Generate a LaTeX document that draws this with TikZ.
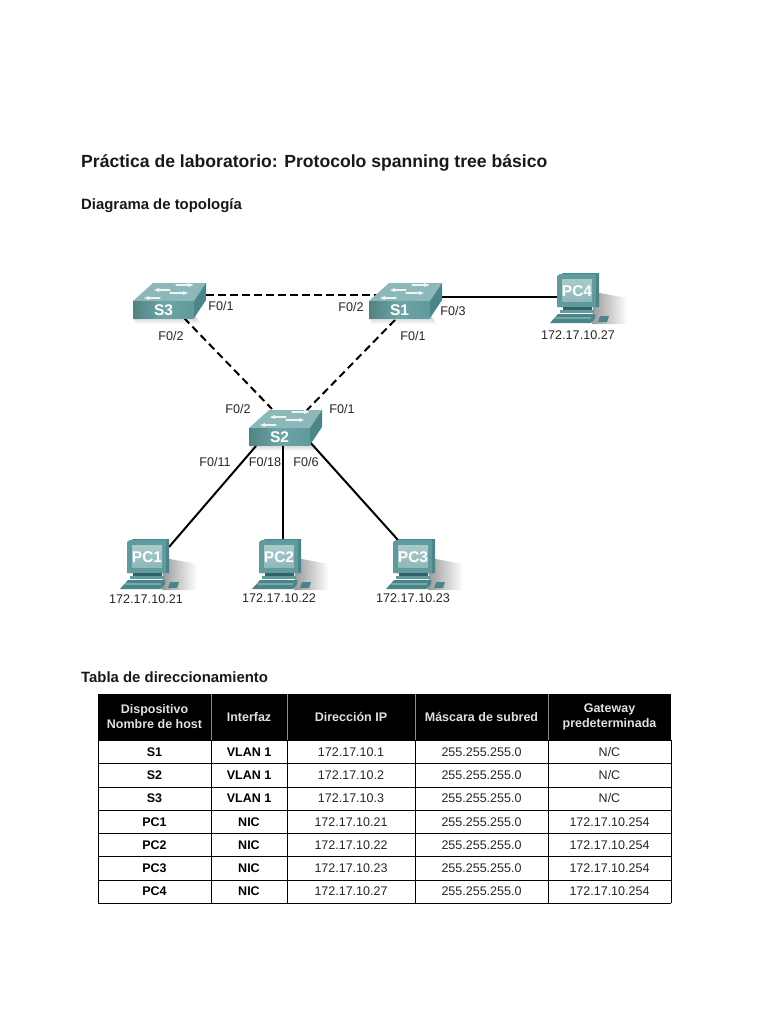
\documentclass[tikz,border=0pt]{standalone}
\usepackage{fontspec}
\setmainfont{Liberation Sans}
\usetikzlibrary{fadings}
\definecolor{tealF}{HTML}{5F9A9C}
\definecolor{tealT}{HTML}{8DB8BA}
\definecolor{tealS}{HTML}{4A8589}
\definecolor{tealD}{HTML}{2F6468}
\definecolor{txt}{HTML}{262626}
\tikzset{
 x=1pt,y=-1pt,
 heading/.style={anchor=west,inner sep=0,font=\bfseries\fontsize{14.9}{14.9}\selectfont,text=black!90},
 port/.style={inner sep=0,font=\fontsize{12.6}{12.6}\selectfont,text=txt},
 iplabel/.style={inner sep=0,font=\fontsize{12.6}{12.6}\selectfont,text=txt},
 swlabel/.style={inner sep=0,font=\bfseries\fontsize{15.5}{15.5}\selectfont,text=white},
 pclabel/.style={inner sep=0,font=\bfseries\fontsize{15.5}{15.5}\selectfont,text=white},
 dashlink/.style={draw=black,line width=2pt,dash pattern=on 7.5pt off 4.5pt},
 solidlink/.style={draw=black,line width=2pt},
 hdr/.style={inner sep=0,align=center,text=white!88!black,font=\bfseries\fontsize{12.5}{15}\selectfont},
 cellb/.style={inner sep=0,font=\bfseries\fontsize{12.5}{12.5}\selectfont,text=black},
 cell/.style={inner sep=0,font=\fontsize{12.5}{12.5}\selectfont,text=txt},
 grid/.style={draw=black,line width=0.7pt},
 hsep/.style={draw=white!55!black,line width=0.5pt},
 swarrow/.style={draw=white!85!tealT,line width=1.2pt,line cap=round},
}
% #1 name, #2 front-left x, #3 front-top y, #4 label
\newcommand{\swbox}[4]{%
 \begin{scope}[shift={(#2,#3)}]
  \fill[black,opacity=.22,path fading=south] (0,15) -- (62,15) -- (68,23) -- (3,23) -- cycle;
  \fill[tealT] (0,0) -- (20,-18) -- (73,-18) -- (61,0) -- cycle;
  \fill[tealS] (61,0) -- (73,-18) -- (73,-1) -- (61,17) -- cycle;
  \shade[left color=tealF!85!black,right color=tealF,middle color=tealF!90!white] (0,0) rectangle (61,17);
  \draw[swarrow] (43,-16)--(59,-16) (25,-11)--(37,-11) (37,-8)--(52,-8) (15,-3)--(27,-3);
  \fill[white!85!tealT] (60,-16)--(55,-18)--(55,-14)--cycle (21,-11)--(26,-13)--(26,-9)--cycle
   (55,-8)--(50,-10)--(50,-6)--cycle (11,-3)--(16,-5)--(16,-1)--cycle;
  \node[swlabel] (#1) at (30.5,8.8) {#4};
 \end{scope}}
% #1 name, #2 centre x, #3 top y, #4 label
\newcommand{\pcbox}[4]{%
 \begin{scope}[shift={(#2,#3)}]
  \fill[black,opacity=.4,path fading=east] (16,18) -- (49,24) -- (49,50) -- (14,50) -- cycle;
  \fill[tealS] (-18,1) -- (-15,-1) -- (21,-1) -- (21,33) -- (-18,33) -- cycle;
  \fill[tealF] (-21,2) -- (-18,0) -- (18,0) -- (18,33) -- (-21,33) -- cycle;
  \shade[top color=tealT!75!white,bottom color=tealF!70!white] (-16,5) rectangle (14,27);
  \fill[tealD] (-15,33) rectangle (14,37);
  \fill[tealF] (-18,36) rectangle (16,39);
  \fill[tealS] (-28,49) -- (-20,40) -- (17,40) -- (17,44) -- (13,49) -- cycle;
  \fill[tealF!85!white] (-23,43) rectangle (13,45);
  \fill[tealS] (22,42) -- (31,42) -- (29,48) -- (20,48) -- cycle;
  \node[pclabel] (#1) at (-1,17.5) {#4};
 \end{scope}}
\begin{document}
\begin{tikzpicture}
\useasboundingbox (0,0) rectangle (768,1024);
\fill[white] (0,0) rectangle (768,1024);

\node[heading,font=\bfseries\fontsize{17.6}{17.6}\selectfont] (title) at (81,163) {Práctica de laboratorio: Protocolo spanning tree básico};
\node[heading] (sub1) at (81,206) {Diagrama de topología};
\node[heading] (sub2) at (81,677) {Tabla de direccionamiento};

% anchors of the connectors
\coordinate (s3e) at (206,295);
\coordinate (s1w) at (378,295);
\coordinate (s3s) at (184,318);
\coordinate (s2nw) at (272,409);
\coordinate (s1s) at (395,320);
\coordinate (s2ne) at (307,410);
\coordinate (s1e) at (442,297);
\coordinate (pc4w) at (560,297);
\coordinate (s2a) at (256,446);
\coordinate (pc1e) at (169,547);
\coordinate (s2b) at (283,446);
\coordinate (pc2n) at (283,540);
\coordinate (s2c) at (309,441);
\coordinate (pc3n) at (398,540);

\draw[dashlink] (s3e) -- (s1w);
\draw[dashlink] (s3s) -- (s2nw);
\draw[dashlink] (s1s) -- (s2ne);
\draw[solidlink] (s1e) -- (pc4w);
\draw[solidlink] (s2a) -- (pc1e);
\draw[solidlink] (s2b) -- (pc2n);
\draw[solidlink] (s2c) -- (pc3n);

\swbox{S3}{133}{301}{S3}
\swbox{S1}{369}{301}{S1}
\swbox{S2}{249}{428}{S2}

\pcbox{PC1}{148}{540}{PC1}
\pcbox{PC2}{280}{540}{PC2}
\pcbox{PC3}{414}{540}{PC3}
\pcbox{PC4}{578}{274}{PC4}

\node[iplabel] (ip1) at (146,599) {172.17.10.21};
\node[iplabel] (ip2) at (279,598.5) {172.17.10.22};
\node[iplabel] (ip3) at (413,598.5) {172.17.10.23};
\node[iplabel] (ip4) at (578,335.5) {172.17.10.27};

\node[port] (p1) at (221,305.5) {F0/1};
\node[port] (p2) at (351,307) {F0/2};
\node[port] (p3) at (171,335.5) {F0/2};
\node[port] (p4) at (453,311) {F0/3};
\node[port] (p5) at (413,335.5) {F0/1};
\node[port] (p6) at (238,409) {F0/2};
\node[port] (p7) at (342,408.5) {F0/1};
\node[port] (p8) at (215,461.5) {F0/11};
\node[port] (p9) at (265,461.5) {F0/18};
\node[port] (p10) at (306,461.5) {F0/6};

% table
\fill[black] (98,694) rectangle (671,740);
\foreach \xx in {211,287,415,548} \draw[hsep] (\xx,694) -- (\xx,740);
\foreach \yy in {740,763.5,787,810,833.3,856.6,880,903} \draw[grid] (98,\yy) -- (671,\yy);
\foreach \xx in {98,211,287,415,548,671} \draw[grid] (\xx,740) -- (\xx,903);

\node[hdr] (h1) at (154.5,717) {Dispositivo\\Nombre de host};
\node[hdr] (h2) at (249,717) {Interfaz};
\node[hdr] (h3) at (351,717) {Dirección IP};
\node[hdr] (h4) at (481.5,717) {Máscara de subred};
\node[hdr] (h5) at (609.5,717) {Gateway\\predeterminada};

\foreach \yy/\a/\b/\c/\d/\e/\id in {
 751.8/S1/VLAN 1/172.17.10.1/255.255.255.0/N\slash C/a,
 775.3/S2/VLAN 1/172.17.10.2/255.255.255.0/N\slash C/b,
 798.5/S3/VLAN 1/172.17.10.3/255.255.255.0/N\slash C/c,
 821.7/PC1/NIC/172.17.10.21/255.255.255.0/172.17.10.254/d,
 845/PC2/NIC/172.17.10.22/255.255.255.0/172.17.10.254/e,
 868.3/PC3/NIC/172.17.10.23/255.255.255.0/172.17.10.254/f,
 891.5/PC4/NIC/172.17.10.27/255.255.255.0/172.17.10.254/g}{
 \node[cellb] (r\id1) at (154.5,\yy) {\a};
 \node[cellb] (r\id2) at (249,\yy) {\b};
 \node[cell] (r\id3) at (351,\yy) {\c};
 \node[cell] (r\id4) at (481.5,\yy) {\d};
 \node[cell] (r\id5) at (609.5,\yy) {\e};
}
\end{tikzpicture}
\end{document}
